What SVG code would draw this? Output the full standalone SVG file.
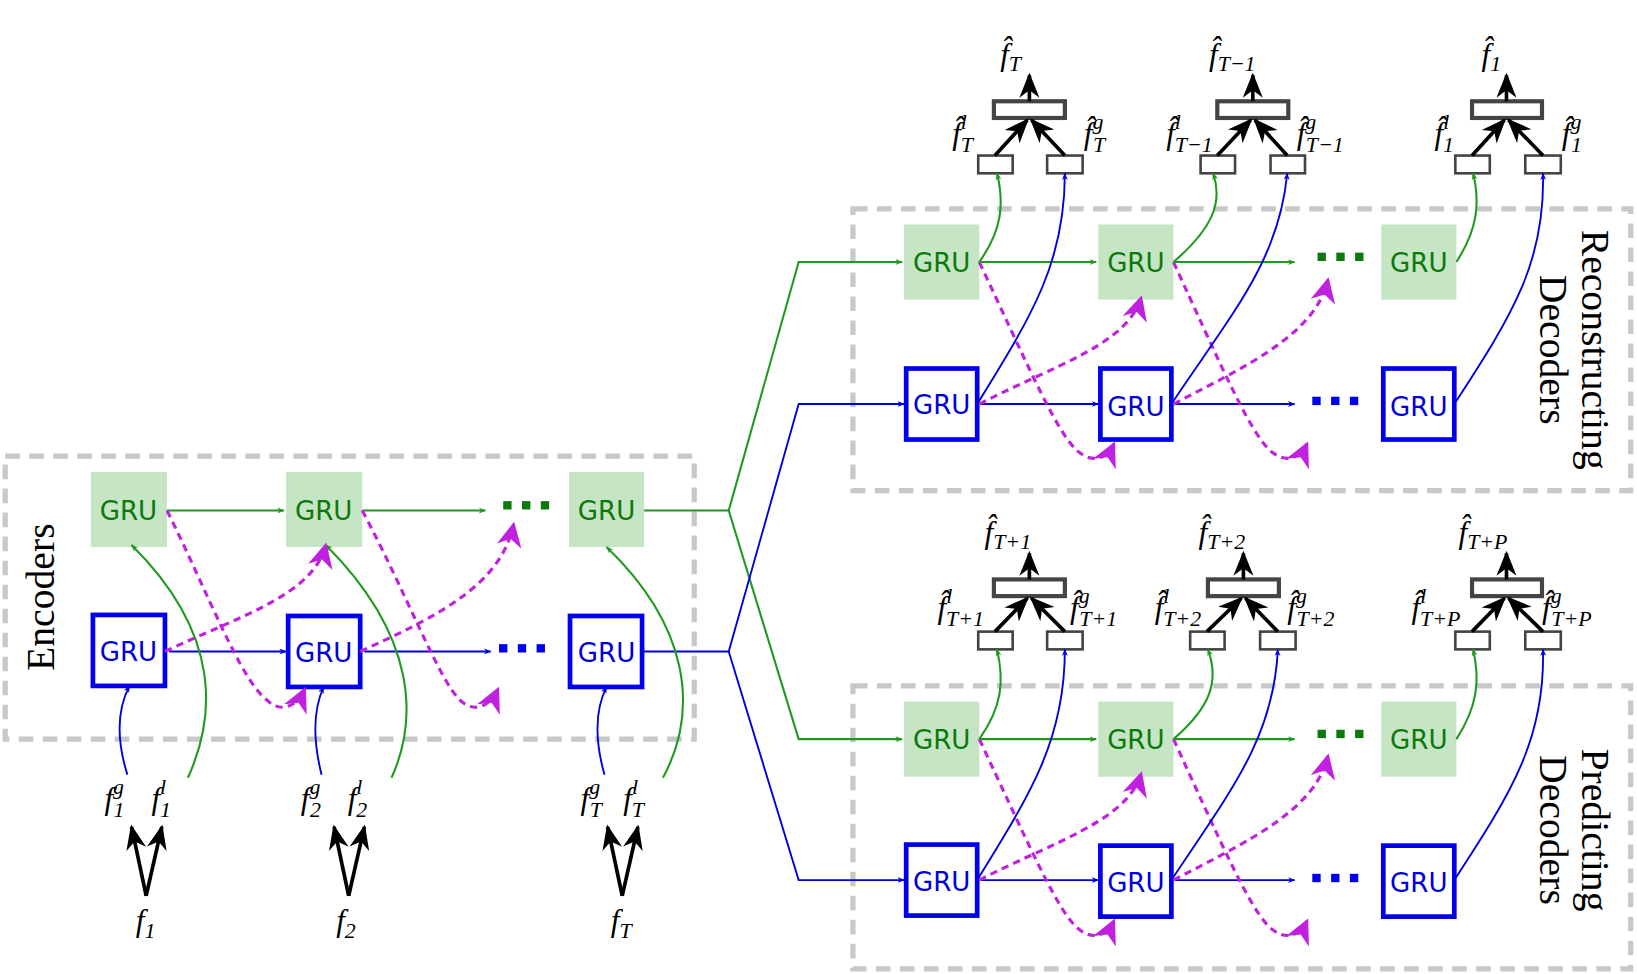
<svg xmlns="http://www.w3.org/2000/svg" width="1637" height="974" viewBox="0 0 1637 974">
<defs>
<style>
.box{fill:none;stroke:#c8c8c8;stroke-width:5;stroke-dasharray:14 9}
.gn{fill:#c5e5c5}
.bn{fill:#fff;stroke:#0000ee;stroke-width:4.5}
.gt{font-family:"DejaVu Sans",sans-serif;font-size:25px;fill:#0a7a0a;text-anchor:middle}
.bt{font-family:"DejaVu Sans",sans-serif;font-size:25px;fill:#0000dd;text-anchor:middle}
.g{fill:none;stroke:#1e9a1e;stroke-width:2}
.b{fill:none;stroke:#0000dd;stroke-width:1.8}
.m{fill:none;stroke:#c020e0;stroke-width:3;stroke-dasharray:7 5}
.k{fill:none;stroke:#000;stroke-width:3.5}
.sr{fill:#fff;stroke:#444;stroke-width:2.5}
.br{fill:#fff;stroke:#444;stroke-width:4}
.math{font-family:"Liberation Serif",serif;font-style:italic;font-size:30px;fill:#000}
.sub{font-size:21px;font-style:italic}
.lab{font-family:"Liberation Serif",serif;font-size:38px;fill:#000;text-anchor:middle}
.gd{fill:#0a7a0a}.bd{fill:#0000ee}
</style>
<marker id="ag" viewBox="0 0 10 10" refX="9" refY="5" markerWidth="7" markerHeight="7" orient="auto" markerUnits="userSpaceOnUse"><path d="M0,1 L10,5 L0,9 L3,5Z" fill="#1e9a1e"/></marker>
<marker id="ab" viewBox="0 0 10 10" refX="9" refY="5" markerWidth="7" markerHeight="7" orient="auto" markerUnits="userSpaceOnUse"><path d="M0,1 L10,5 L0,9 L3,5Z" fill="#0000dd"/></marker>
<marker id="am" viewBox="0 0 10 10" refX="9" refY="5" markerWidth="24" markerHeight="24" orient="auto" markerUnits="userSpaceOnUse"><path d="M0,0 L10,5 L0,10 L3,5Z" fill="#c020e0"/></marker>
<marker id="ak" viewBox="0 0 10 10" refX="9" refY="5" markerWidth="24" markerHeight="24" orient="auto" markerUnits="userSpaceOnUse"><path d="M0,1 L10,5 L0,9 L3,5Z" fill="#000"/></marker>
</defs>
<g transform="scale(1.044)">
<rect class="box" x="5" y="437" width="660" height="271"/>
<rect class="box" x="817" y="200" width="745" height="270"/>
<rect class="box" x="817" y="657" width="745" height="271"/>
<text class="lab" transform="translate(52,572) rotate(-90)">Encoders</text>
<text class="lab" transform="translate(1515,335) rotate(90)">Reconstructing</text>
<text class="lab" transform="translate(1475,335) rotate(90)">Decoders</text>
<text class="lab" transform="translate(1515,795) rotate(90)">Predicting</text>
<text class="lab" transform="translate(1475,795) rotate(90)">Decoders</text>

<g id="enc-g1"><rect class="gn" x="87" y="452" width="73" height="72"/><text class="gt" x="123" y="498">GRU</text></g>
<g id="enc-g2"><rect class="gn" x="274" y="452" width="73" height="72"/><text class="gt" x="310" y="498">GRU</text></g>
<g id="enc-g3"><rect class="gn" x="545" y="452" width="72" height="72"/><text class="gt" x="581" y="498">GRU</text></g>
<g id="enc-b1"><rect class="bn" x="89" y="589" width="69" height="68"/><text class="bt" x="123" y="633">GRU</text></g>
<g id="enc-b2"><rect class="bn" x="276" y="590" width="69" height="68"/><text class="bt" x="310" y="634">GRU</text></g>
<g id="enc-b3"><rect class="bn" x="546" y="590" width="69" height="68"/><text class="bt" x="581" y="634">GRU</text></g>

<g id="rec-g1"><rect class="gn" x="866" y="215" width="72" height="72"/><text class="gt" x="902" y="261">GRU</text></g>
<g id="rec-g2"><rect class="gn" x="1052" y="215" width="72" height="72"/><text class="gt" x="1088" y="261">GRU</text></g>
<g id="rec-g3"><rect class="gn" x="1323" y="215" width="72" height="72"/><text class="gt" x="1359" y="261">GRU</text></g>
<g id="rec-b1"><rect class="bn" x="868" y="353" width="68" height="68"/><text class="bt" x="902" y="397">GRU</text></g>
<g id="rec-b2"><rect class="bn" x="1054" y="353" width="68" height="68"/><text class="bt" x="1088" y="398">GRU</text></g>
<g id="rec-b3"><rect class="bn" x="1325" y="353" width="68" height="68"/><text class="bt" x="1359" y="398">GRU</text></g>

<g id="pre-g1"><rect class="gn" x="866" y="672" width="72" height="72"/><text class="gt" x="902" y="717">GRU</text></g>
<g id="pre-g2"><rect class="gn" x="1052" y="672" width="72" height="72"/><text class="gt" x="1088" y="717">GRU</text></g>
<g id="pre-g3"><rect class="gn" x="1323" y="672" width="72" height="72"/><text class="gt" x="1359" y="717">GRU</text></g>
<g id="pre-b1"><rect class="bn" x="868" y="809" width="68" height="68"/><text class="bt" x="902" y="853">GRU</text></g>
<g id="pre-b2"><rect class="bn" x="1054" y="810" width="68" height="68"/><text class="bt" x="1088" y="854">GRU</text></g>
<g id="pre-b3"><rect class="bn" x="1325" y="810" width="68" height="68"/><text class="bt" x="1359" y="854">GRU</text></g>

<g id="dots">
<rect class="gd" x="482" y="480" width="8" height="8"/><rect class="gd" x="500" y="480" width="8" height="8"/><rect class="gd" x="518" y="480" width="8" height="8"/>
<rect class="bd" x="478" y="617" width="8" height="8"/><rect class="bd" x="496" y="617" width="8" height="8"/><rect class="bd" x="514" y="617" width="8" height="8"/>
<rect class="gd" x="1262" y="242" width="8" height="8"/><rect class="gd" x="1280" y="242" width="8" height="8"/><rect class="gd" x="1298" y="242" width="8" height="8"/>
<rect class="bd" x="1257" y="380" width="8" height="8"/><rect class="bd" x="1275" y="380" width="8" height="8"/><rect class="bd" x="1293" y="380" width="8" height="8"/>
<rect class="gd" x="1262" y="699" width="8" height="8"/><rect class="gd" x="1280" y="699" width="8" height="8"/><rect class="gd" x="1298" y="699" width="8" height="8"/>
<rect class="bd" x="1257" y="837" width="8" height="8"/><rect class="bd" x="1275" y="837" width="8" height="8"/><rect class="bd" x="1293" y="837" width="8" height="8"/>
</g>

<g id="outputs">
<rect class="br" x="952" y="97" width="68" height="16"/><rect class="sr" x="937" y="149" width="33" height="17"/><rect class="sr" x="1003" y="149" width="34" height="17"/>
<rect class="br" x="1166" y="97" width="68" height="16"/><rect class="sr" x="1150" y="149" width="33" height="17"/><rect class="sr" x="1217" y="149" width="33" height="17"/>
<rect class="br" x="1410" y="97" width="67" height="16"/><rect class="sr" x="1394" y="149" width="33" height="17"/><rect class="sr" x="1461" y="149" width="34" height="17"/>
<rect class="br" x="952" y="555" width="68" height="16"/><rect class="sr" x="937" y="605" width="33" height="17"/><rect class="sr" x="1003" y="605" width="34" height="17"/>
<rect class="br" x="1157" y="555" width="68" height="16"/><rect class="sr" x="1140" y="605" width="33" height="17"/><rect class="sr" x="1207" y="605" width="34" height="17"/>
<rect class="br" x="1410" y="555" width="67" height="16"/><rect class="sr" x="1394" y="605" width="33" height="17"/><rect class="sr" x="1461" y="605" width="34" height="17"/>
</g>

<g id="connectors">
<path class="g" d="M160,489 H272" marker-end="url(#ag)"/>
<path class="g" d="M347,489 H465" marker-end="url(#ag)"/>
<path class="b" d="M162,624 H274" marker-end="url(#ab)"/>
<path class="b" d="M349,624 H470" marker-end="url(#ab)"/>
<path class="g" d="M617,489 H698 L765,251 H864" marker-end="url(#ag)"/>
<path class="g" d="M698,489 L765,708 H864" marker-end="url(#ag)"/>
<path class="b" d="M615,624 H698 L765,387 H866" marker-end="url(#ab)"/>
<path class="b" d="M698,624 L765,843 H866" marker-end="url(#ab)"/>
<path class="g" d="M938,251 H1050" marker-end="url(#ag)"/>
<path class="g" d="M1124,251 H1240" marker-end="url(#ag)"/>
<path class="b" d="M940,387 H1052" marker-end="url(#ab)"/>
<path class="b" d="M1126,387 H1240" marker-end="url(#ab)"/>
<path class="g" d="M938,708 H1050" marker-end="url(#ag)"/>
<path class="g" d="M1124,708 H1240" marker-end="url(#ag)"/>
<path class="b" d="M940,843 H1052" marker-end="url(#ab)"/>
<path class="b" d="M1126,843 H1240" marker-end="url(#ab)"/>

<path class="g" d="M180,745 C205,690 215,610 126,522" marker-end="url(#ag)"/>
<path class="g" d="M375,745 C400,690 400,610 312,522" marker-end="url(#ag)"/>
<path class="g" d="M635,745 C670,680 660,600 581,524" marker-end="url(#ag)"/>
<path class="b" d="M122,742 C112,710 112,680 124,657" marker-end="url(#ab)"/>
<path class="b" d="M308,742 C300,710 300,680 310,658" marker-end="url(#ab)"/>
<path class="b" d="M579,742 C570,710 570,680 581,658" marker-end="url(#ab)"/>

<path class="m" d="M160,489 C200,570 230,650 255,670 C270,685 285,675 292,660" marker-end="url(#am)"/>
<path class="m" d="M347,489 C390,570 420,650 440,670 C455,685 470,675 477,660" marker-end="url(#am)"/>
<path class="m" d="M158,624 C230,590 300,570 312,522" marker-end="url(#am)"/>
<path class="m" d="M345,624 C420,590 480,560 492,502" marker-end="url(#am)"/>

<path class="m" d="M938,251 C980,340 1010,410 1030,430 C1045,445 1060,440 1067,425" marker-end="url(#am)"/>
<path class="m" d="M1124,251 C1165,340 1195,410 1215,430 C1230,445 1245,440 1252,425" marker-end="url(#am)"/>
<path class="m" d="M938,387 C1010,350 1080,330 1093,285" marker-end="url(#am)"/>
<path class="m" d="M1124,387 C1195,350 1260,320 1272,268" marker-end="url(#am)"/>
<path class="m" d="M938,708 C980,797 1010,867 1030,887 C1045,902 1060,897 1067,882" marker-end="url(#am)"/>
<path class="m" d="M1124,708 C1165,797 1195,867 1215,887 C1230,902 1245,897 1252,882" marker-end="url(#am)"/>
<path class="m" d="M938,843 C1010,806 1080,786 1093,741" marker-end="url(#am)"/>
<path class="m" d="M1124,843 C1195,806 1260,776 1272,724" marker-end="url(#am)"/>

<path class="g" d="M938,251 C960,220 962,195 955,166" marker-end="url(#ag)"/>
<path class="g" d="M1124,251 C1160,220 1172,195 1162,166" marker-end="url(#ag)"/>
<path class="g" d="M1395,251 C1415,220 1418,195 1411,166" marker-end="url(#ag)"/>
<path class="b" d="M936,387 C990,300 1020,250 1020,166" marker-end="url(#ab)"/>
<path class="b" d="M1122,387 C1180,300 1225,250 1233,166" marker-end="url(#ab)"/>
<path class="b" d="M1393,387 C1450,300 1480,250 1478,166" marker-end="url(#ab)"/>
<path class="g" d="M938,708 C960,677 962,652 955,622" marker-end="url(#ag)"/>
<path class="g" d="M1124,708 C1160,677 1168,652 1157,622" marker-end="url(#ag)"/>
<path class="g" d="M1395,708 C1415,677 1418,652 1411,622" marker-end="url(#ag)"/>
<path class="b" d="M936,843 C990,756 1020,706 1020,622" marker-end="url(#ab)"/>
<path class="b" d="M1122,843 C1180,756 1220,706 1224,622" marker-end="url(#ab)"/>
<path class="b" d="M1393,843 C1450,756 1480,706 1478,622" marker-end="url(#ab)"/>

<g id="black-arrows">
<path class="k" d="M140,858 L126,792" marker-end="url(#ak)"/><path class="k" d="M140,858 L155,792" marker-end="url(#ak)"/>
<path class="k" d="M334,858 L320,792" marker-end="url(#ak)"/><path class="k" d="M334,858 L349,792" marker-end="url(#ak)"/>
<path class="k" d="M596,858 L582,792" marker-end="url(#ak)"/><path class="k" d="M596,858 L611,792" marker-end="url(#ak)"/>
<path class="k" d="M953,149 L984,115" marker-end="url(#ak)"/><path class="k" d="M1020,149 L988,115" marker-end="url(#ak)"/><path class="k" d="M986,97 V72" marker-end="url(#ak)"/>
<path class="k" d="M1166,149 L1198,115" marker-end="url(#ak)"/><path class="k" d="M1233,149 L1202,115" marker-end="url(#ak)"/><path class="k" d="M1200,97 V72" marker-end="url(#ak)"/>
<path class="k" d="M1410,149 L1441,115" marker-end="url(#ak)"/><path class="k" d="M1478,149 L1445,115" marker-end="url(#ak)"/><path class="k" d="M1443,97 V72" marker-end="url(#ak)"/>
<path class="k" d="M953,605 L984,573" marker-end="url(#ak)"/><path class="k" d="M1020,605 L988,573" marker-end="url(#ak)"/><path class="k" d="M986,555 V530" marker-end="url(#ak)"/>
<path class="k" d="M1156,605 L1189,573" marker-end="url(#ak)"/><path class="k" d="M1224,605 L1193,573" marker-end="url(#ak)"/><path class="k" d="M1191,555 V530" marker-end="url(#ak)"/>
<path class="k" d="M1410,605 L1441,573" marker-end="url(#ak)"/><path class="k" d="M1478,605 L1445,573" marker-end="url(#ak)"/><path class="k" d="M1443,555 V530" marker-end="url(#ak)"/>
</g>
</g>

<g id="labels">
<text class="math" x="100" y="775">f<tspan class="sub" dy="-14">g</tspan><tspan class="sub" dx="-10" dy="22">1</tspan></text>
<text class="math" x="145" y="775">f<tspan class="sub" dy="-14">l</tspan><tspan class="sub" dx="-6" dy="22">1</tspan></text>
<text class="math" x="288" y="775">f<tspan class="sub" dy="-14">g</tspan><tspan class="sub" dx="-10" dy="22">2</tspan></text>
<text class="math" x="333" y="775">f<tspan class="sub" dy="-14">l</tspan><tspan class="sub" dx="-6" dy="22">2</tspan></text>
<text class="math" x="556" y="775">f<tspan class="sub" dy="-14">g</tspan><tspan class="sub" dx="-10" dy="22">T</tspan></text>
<text class="math" x="597" y="775">f<tspan class="sub" dy="-14">l</tspan><tspan class="sub" dx="-6" dy="22">T</tspan></text>
<text class="math" x="130" y="892">f<tspan class="sub" dy="6">1</tspan></text>
<text class="math" x="322" y="892">f<tspan class="sub" dy="6">2</tspan></text>
<text class="math" x="585" y="892">f<tspan class="sub" dy="6">T</tspan></text>

<text class="math" x="958" y="62">f̂<tspan class="sub" dy="6">T</tspan></text>
<text class="math" x="1158" y="62">f̂<tspan class="sub" dy="6">T−1</tspan></text>
<text class="math" x="1419" y="62">f̂<tspan class="sub" dy="6">1</tspan></text>
<text class="math" x="912" y="138">f̂<tspan class="sub" dy="-14">l</tspan><tspan class="sub" dx="-6" dy="22">T</tspan></text>
<text class="math" x="1038" y="138">f̂<tspan class="sub" dy="-14">g</tspan><tspan class="sub" dx="-10" dy="22">T</tspan></text>
<text class="math" x="1117" y="138">f̂<tspan class="sub" dy="-14">l</tspan><tspan class="sub" dx="-6" dy="22">T−1</tspan></text>
<text class="math" x="1242" y="138">f̂<tspan class="sub" dy="-14">g</tspan><tspan class="sub" dx="-10" dy="22">T−1</tspan></text>
<text class="math" x="1374" y="138">f̂<tspan class="sub" dy="-14">l</tspan><tspan class="sub" dx="-6" dy="22">1</tspan></text>
<text class="math" x="1496" y="138">f̂<tspan class="sub" dy="-14">g</tspan><tspan class="sub" dx="-10" dy="22">1</tspan></text>

<text class="math" x="943" y="520">f̂<tspan class="sub" dy="6">T+1</tspan></text>
<text class="math" x="1148" y="520">f̂<tspan class="sub" dy="6">T+2</tspan></text>
<text class="math" x="1397" y="520">f̂<tspan class="sub" dy="6">T+P</tspan></text>
<text class="math" x="898" y="592">f̂<tspan class="sub" dy="-14">l</tspan><tspan class="sub" dx="-6" dy="22">T+1</tspan></text>
<text class="math" x="1025" y="592">f̂<tspan class="sub" dy="-14">g</tspan><tspan class="sub" dx="-10" dy="22">T+1</tspan></text>
<text class="math" x="1106" y="592">f̂<tspan class="sub" dy="-14">l</tspan><tspan class="sub" dx="-6" dy="22">T+2</tspan></text>
<text class="math" x="1233" y="592">f̂<tspan class="sub" dy="-14">g</tspan><tspan class="sub" dx="-10" dy="22">T+2</tspan></text>
<text class="math" x="1352" y="592">f̂<tspan class="sub" dy="-14">l</tspan><tspan class="sub" dx="-6" dy="22">T+P</tspan></text>
<text class="math" x="1477" y="592">f̂<tspan class="sub" dy="-14">g</tspan><tspan class="sub" dx="-10" dy="22">T+P</tspan></text>
</g>
</g>
</svg>
